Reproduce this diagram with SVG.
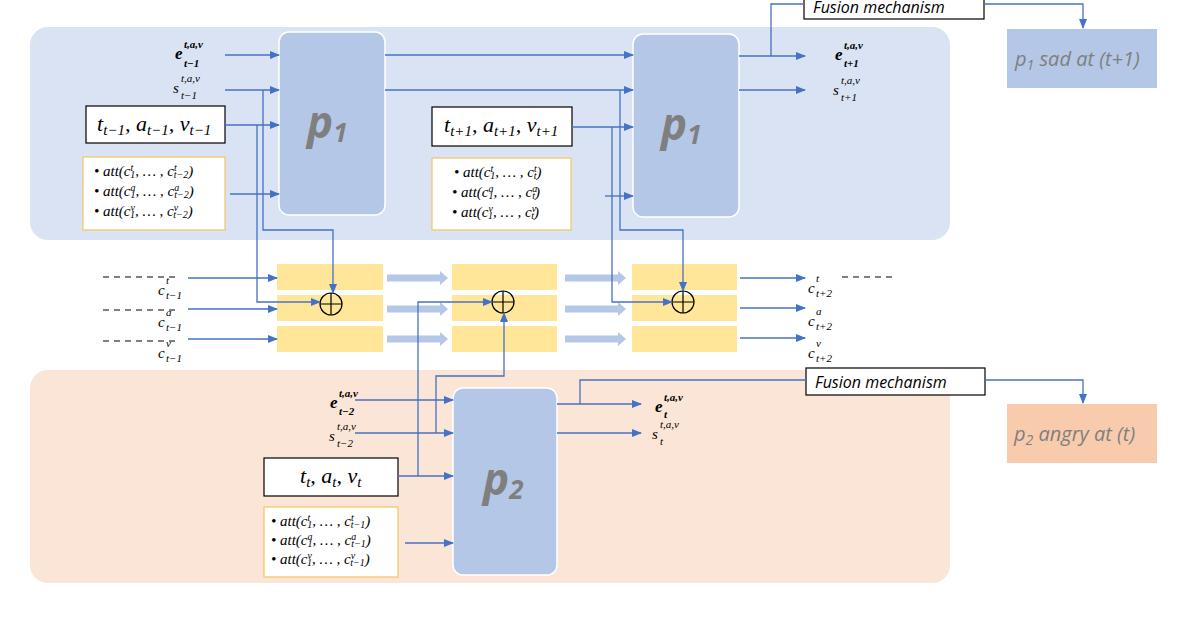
<svg xmlns="http://www.w3.org/2000/svg" width="1193" height="619" viewBox="0 0 1193 619">
<defs>
<marker id="ar" markerWidth="10" markerHeight="8" refX="9" refY="4" orient="auto" markerUnits="userSpaceOnUse"><path d="M0,0 L10,4 L0,8 z" fill="#4472c4"/></marker>
<path id="fa" d="M0,-3.5 H53 V-7 L61,0 L53,7 V3.5 H0 z" fill="#b4c7e7"/>
</defs>
<style>
.ln{fill:none;stroke:#4472c4;stroke-width:1.3}
.a{marker-end:url(#ar)}
.proc{fill:#b4c7e7;stroke:#fff;stroke-width:1.5}
.big{font-family:"Open Sans","DejaVu Sans",sans-serif;font-weight:bold;font-style:italic;font-size:44px;fill:#7f7f7f}
.m{font-family:"Liberation Serif","DejaVu Serif",serif;font-style:italic;font-size:15px;fill:#000}
.mb{font-family:"Liberation Serif","DejaVu Serif",serif;font-style:italic;font-weight:bold;font-size:17px;fill:#000}
.mt{font-family:"Liberation Serif","DejaVu Serif",serif;font-style:italic;font-size:22px;fill:#000}
.s{font-family:"Liberation Serif","DejaVu Serif",serif;font-style:italic;font-size:11px;fill:#000}
.sb{font-family:"Liberation Serif","DejaVu Serif",serif;font-style:italic;font-weight:bold;font-size:11px;fill:#000}
.tb{fill:#fff;stroke:#000;stroke-width:1.2}
.ab{fill:#fff;stroke:#f2c75c;stroke-width:1.2}
.bar{fill:#ffe699}
.fu{font-family:"Open Sans","Liberation Sans",sans-serif;font-style:italic;font-size:16px;fill:#000}
.res{font-family:"Open Sans","Liberation Sans",sans-serif;font-style:italic;font-size:20px;fill:#7f7f7f}
.dash{stroke:#000;stroke-width:1;stroke-dasharray:6,5}
</style>
<rect x="30" y="27" width="920" height="213" rx="18" fill="#dae3f3"/>
<rect x="30" y="370" width="920" height="213" rx="18" fill="#fbe5d6"/>

<g id="p1a"><rect class="proc" x="279" y="32" width="106" height="183" rx="10"/><text class="big" x="307" y="138">p<tspan font-size="26" dy="4">1</tspan></text></g>
<g id="p1b"><rect class="proc" x="633" y="34" width="106" height="183" rx="10"/><text class="big" x="661" y="140">p<tspan font-size="26" dy="4">1</tspan></text></g>
<g id="p2"><rect class="proc" x="453" y="388" width="104" height="187" rx="10"/><text class="big" x="483" y="495">p<tspan font-size="26" dy="4">2</tspan></text></g>

<g id="in1"><rect class="tb" x="86" y="106" width="139" height="37"/><text class="mt" x="97" y="131">t<tspan font-size="15" dy="4">t−1</tspan><tspan dy="-4">, a</tspan><tspan font-size="15" dy="4">t−1</tspan><tspan dy="-4">, v</tspan><tspan font-size="15" dy="4">t−1</tspan></text></g>
<g id="in2"><rect class="tb" x="432" y="107" width="140" height="39"/><text class="mt" x="444" y="132">t<tspan font-size="15" dy="4">t+1</tspan><tspan dy="-4">, a</tspan><tspan font-size="15" dy="4">t+1</tspan><tspan dy="-4">, v</tspan><tspan font-size="15" dy="4">t+1</tspan></text></g>
<g id="in3"><rect class="tb" x="264" y="458" width="134" height="38"/><text class="mt" x="300" y="483">t<tspan font-size="15" dy="4">t</tspan><tspan dy="-4">, a</tspan><tspan font-size="15" dy="4">t</tspan><tspan dy="-4">, v</tspan><tspan font-size="15" dy="4">t</tspan></text></g>

<g id="att1"><rect class="ab" x="83" y="157" width="142" height="73"/>
<text class="m" x="94" y="176">• att(c<tspan font-size="10" dy="-5">t</tspan><tspan font-size="10" dx="-3" dy="7">1</tspan><tspan dy="-2">, … , c</tspan><tspan font-size="10" dy="-5">t</tspan><tspan font-size="10" dx="-3" dy="7">t−2</tspan><tspan dy="-2">)</tspan></text>
<text class="m" x="94" y="196">• att(c<tspan font-size="10" dy="-5">a</tspan><tspan font-size="10" dx="-5" dy="7">1</tspan><tspan dy="-2">, … , c</tspan><tspan font-size="10" dy="-5">a</tspan><tspan font-size="10" dx="-5" dy="7">t−2</tspan><tspan dy="-2">)</tspan></text>
<text class="m" x="94" y="216">• att(c<tspan font-size="10" dy="-5">v</tspan><tspan font-size="10" dx="-5" dy="7">1</tspan><tspan dy="-2">, … , c</tspan><tspan font-size="10" dy="-5">v</tspan><tspan font-size="10" dx="-5" dy="7">t−2</tspan><tspan dy="-2">)</tspan></text></g>
<g id="att2"><rect class="ab" x="432" y="158" width="139" height="72"/>
<text class="m" x="454" y="177">• att(c<tspan font-size="10" dy="-5">t</tspan><tspan font-size="10" dx="-3" dy="7">1</tspan><tspan dy="-2">, … , c</tspan><tspan font-size="10" dy="-5">t</tspan><tspan font-size="10" dx="-3" dy="7">t</tspan><tspan dy="-2">)</tspan></text>
<text class="m" x="452" y="197">• att(c<tspan font-size="10" dy="-5">a</tspan><tspan font-size="10" dx="-5" dy="7">1</tspan><tspan dy="-2">, … , c</tspan><tspan font-size="10" dy="-5">a</tspan><tspan font-size="10" dx="-5" dy="7">t</tspan><tspan dy="-2">)</tspan></text>
<text class="m" x="452" y="217">• att(c<tspan font-size="10" dy="-5">v</tspan><tspan font-size="10" dx="-5" dy="7">1</tspan><tspan dy="-2">, … , c</tspan><tspan font-size="10" dy="-5">v</tspan><tspan font-size="10" dx="-5" dy="7">t</tspan><tspan dy="-2">)</tspan></text></g>
<g id="att3"><rect class="ab" x="264" y="507" width="134" height="70"/>
<text class="m" x="271" y="526">• att(c<tspan font-size="10" dy="-5">t</tspan><tspan font-size="10" dx="-3" dy="7">1</tspan><tspan dy="-2">, … , c</tspan><tspan font-size="10" dy="-5">t</tspan><tspan font-size="10" dx="-3" dy="7">t−1</tspan><tspan dy="-2">)</tspan></text>
<text class="m" x="271" y="545">• att(c<tspan font-size="10" dy="-5">a</tspan><tspan font-size="10" dx="-5" dy="7">1</tspan><tspan dy="-2">, … , c</tspan><tspan font-size="10" dy="-5">a</tspan><tspan font-size="10" dx="-5" dy="7">t−1</tspan><tspan dy="-2">)</tspan></text>
<text class="m" x="271" y="564">• att(c<tspan font-size="10" dy="-5">v</tspan><tspan font-size="10" dx="-5" dy="7">1</tspan><tspan dy="-2">, … , c</tspan><tspan font-size="10" dy="-5">v</tspan><tspan font-size="10" dx="-5" dy="7">t−1</tspan><tspan dy="-2">)</tspan></text></g>

<g id="mem">
<rect class="bar" x="277" y="264" width="106" height="26"/><rect class="bar" x="277" y="295" width="106" height="26"/><rect class="bar" x="277" y="326" width="106" height="26"/>
<rect class="bar" x="452" y="264" width="105" height="26"/><rect class="bar" x="452" y="295" width="105" height="26"/><rect class="bar" x="452" y="326" width="105" height="26"/>
<rect class="bar" x="632" y="264" width="105" height="26"/><rect class="bar" x="632" y="295" width="105" height="26"/><rect class="bar" x="632" y="326" width="105" height="26"/>
</g>
<g id="oplus" fill="none" stroke="#000" stroke-width="1.2">
<circle cx="331" cy="304" r="11"/><path d="M320,304h22M331,293v22"/>
<circle cx="503" cy="302" r="11"/><path d="M492,302h22M503,291v22"/>
<circle cx="683" cy="302" r="11"/><path d="M672,302h22M683,291v22"/>
</g>

<g id="fusion1"><rect class="tb" x="804" y="-8" width="180" height="27"/><text class="fu" x="813" y="13">Fusion mechanism</text></g>
<g id="fusion2"><rect class="tb" x="806" y="368" width="179" height="27"/><text class="fu" x="815" y="388">Fusion mechanism</text></g>
<g id="res1"><rect x="1007" y="29" width="150" height="59" fill="#b4c7e7"/><text class="res" x="1015" y="66">p<tspan font-size="14" dy="4">1</tspan><tspan dy="-4"> sad at (t+1)</tspan></text></g>
<g id="res2"><rect x="1007" y="404" width="150" height="59" fill="#f8cbad"/><text class="res" x="1014" y="441">p<tspan font-size="14" dy="4">2</tspan><tspan dy="-4"> angry at (t)</tspan></text></g>

<g id="labels">
<text class="mb" x="175" y="59">e</text><text class="sb" x="184" y="48">t,a,v</text><text class="sb" x="184" y="67">t−1</text>
<text class="m" x="173" y="93">s</text><text class="s" x="181" y="82">t,a,v</text><text class="s" x="181" y="99">t−1</text>
<text class="mb" x="835" y="60">e</text><text class="sb" x="844" y="49">t,a,v</text><text class="sb" x="844" y="67">t+1</text>
<text class="m" x="833" y="95">s</text><text class="s" x="841" y="84">t,a,v</text><text class="s" x="841" y="101">t+1</text>
<text class="mb" x="330" y="408">e</text><text class="sb" x="339" y="397">t,a,v</text><text class="sb" x="339" y="415">t−2</text>
<text class="m" x="329" y="441">s</text><text class="s" x="337" y="430">t,a,v</text><text class="s" x="337" y="447">t−2</text>
<text class="mb" x="655" y="412">e</text><text class="sb" x="664" y="401">t,a,v</text><text class="sb" x="664" y="418">t</text>
<text class="m" x="652" y="439">s</text><text class="s" x="660" y="428">t,a,v</text><text class="s" x="660" y="445">t</text>
<text class="m" x="158" y="295">c</text><text class="s" x="166" y="284">t</text><text class="s" x="166" y="299">t−1</text>
<text class="m" x="158" y="327">c</text><text class="s" x="166" y="316">a</text><text class="s" x="166" y="331">t−1</text>
<text class="m" x="158" y="358">c</text><text class="s" x="166" y="347">v</text><text class="s" x="166" y="362">t−1</text>
<text class="m" x="808" y="293">c</text><text class="s" x="816" y="282">t</text><text class="s" x="816" y="297">t+2</text>
<text class="m" x="808" y="326">c</text><text class="s" x="816" y="315">a</text><text class="s" x="816" y="330">t+2</text>
<text class="m" x="808" y="358">c</text><text class="s" x="816" y="347">v</text><text class="s" x="816" y="362">t+2</text>
</g>

<g id="connectors">
<path class="dash" d="M103,277H176M103,310H176M103,341H176M842,277H892"/>
<use href="#fa" x="387" y="278"/><use href="#fa" x="387" y="309"/><use href="#fa" x="387" y="339"/>
<use href="#fa" x="565" y="278"/><use href="#fa" x="565" y="309"/><use href="#fa" x="565" y="339"/>
<path class="ln a" d="M188,278H277"/><path class="ln a" d="M188,309H277"/><path class="ln a" d="M188,339H277"/>
<path class="ln a" d="M740,278H805"/><path class="ln a" d="M740,308H805"/><path class="ln a" d="M740,338H805"/>
<path class="ln a" d="M225,55H279"/><path class="ln a" d="M225,90H279"/><path class="ln a" d="M225,125H279"/><path class="ln a" d="M230,194H279"/>
<path class="ln a" d="M263,90V230H333V293"/><path class="ln a" d="M257,125V302H320"/>
<path class="ln a" d="M385,55H633"/><path class="ln a" d="M385,90H633"/><path class="ln a" d="M572,127H633"/><path class="ln a" d="M605,196H633"/>
<path class="ln a" d="M620,90V230H683V291"/><path class="ln a" d="M612,127V302H672"/>
<path class="ln a" d="M739,56H805"/><path class="ln a" d="M739,90H805"/>
<path class="ln" d="M771,56V4H804"/><path class="ln a" d="M984,4H1083V28"/>
<path class="ln a" d="M355,400H453"/><path class="ln a" d="M355,433H453"/><path class="ln a" d="M398,476H453"/><path class="ln a" d="M405,543H453"/>
<path class="ln a" d="M418,476V302H492"/><path class="ln a" d="M436,433V376H504V313"/>
<path class="ln a" d="M557,404H641"/><path class="ln a" d="M557,433H641"/>
<path class="ln" d="M580,404V380H806"/><path class="ln a" d="M985,380H1083V403"/>
</g>
</svg>
